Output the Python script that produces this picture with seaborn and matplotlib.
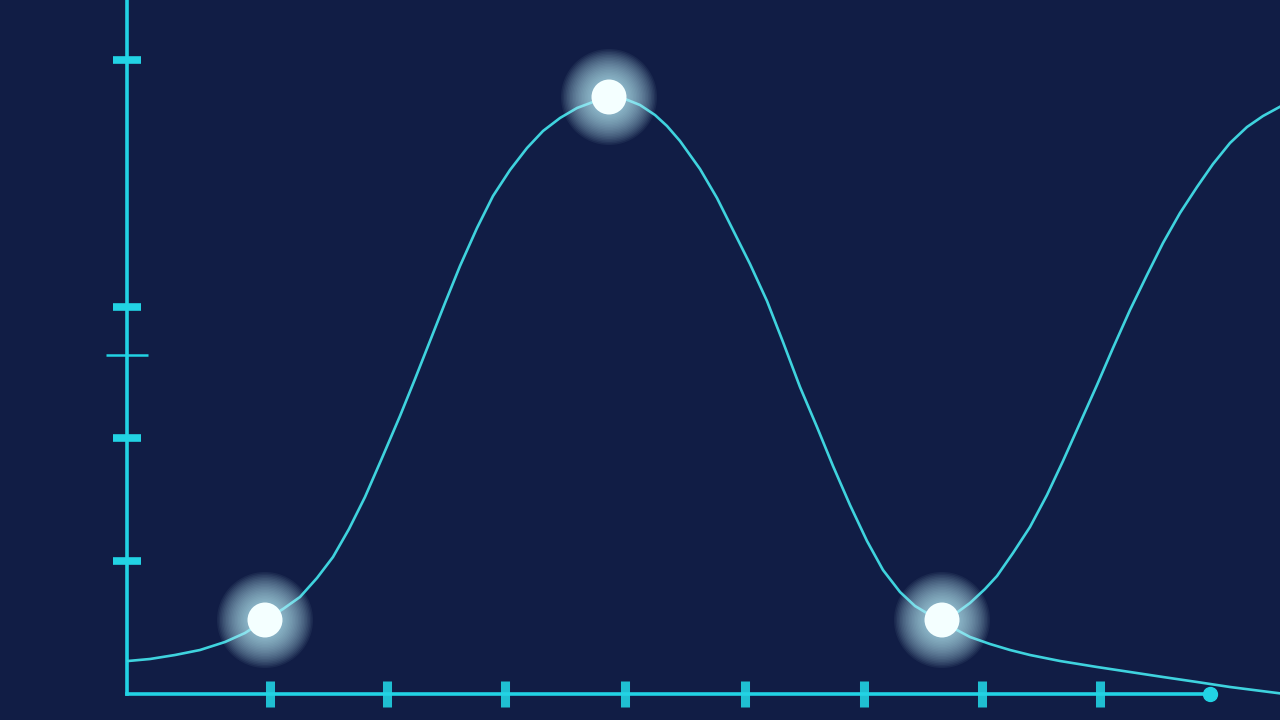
import pandas as pd
import seaborn as sns
import matplotlib.pyplot as plt

# curve (x along the axis, y above the axis)
curve_x = [1, 23, 48, 73, 98, 118, 138, 156, 173, 190, 206, 222, 238, 255, 273,
           288, 303, 318, 333, 350, 366, 383, 400, 416, 433, 450, 466, 485,
           498, 513, 528, 540, 553, 573, 590, 606, 623, 640, 656, 673, 690, 706,
           723, 740, 756, 773, 788, 803, 815,
           828, 843, 858, 870, 886, 903, 920, 936, 953, 970, 986, 1003, 1020,
           1036, 1053, 1070, 1086, 1103, 1120, 1136, 1158]
curve_y = [33, 35, 39, 44, 52, 61, 74, 85, 97, 116, 137, 165, 197, 236, 278,
           315, 353, 391, 428, 466, 498, 524, 546, 563, 576, 586, 592, 596,
           595, 589, 579, 568, 553, 525, 496, 464, 430, 393, 352, 307, 267, 228,
           189, 153, 124, 102, 88, 79, 74,
           80, 91, 105, 118, 141, 167, 199, 233, 271, 309, 346, 384, 419,
           451, 481, 507, 530, 551, 567, 578, 590]

# second branch leaving the trough
tail_x = [815, 828, 843, 863, 883, 903, 933, 970, 1003, 1036, 1070, 1103, 1158]
tail_y = [74, 65, 57, 50, 44, 39, 33, 27, 22, 17, 12, 7, 0]

# highlighted points
key_x = [138, 482, 815]
key_y = [74, 597, 74]

x_ticks = [143, 260, 378, 498, 618, 737, 855, 973]
y_ticks = [133, 256, 387, 634]
y_minor = [339]
x_end = 1083

bg = '#111d45'
cyan = '#22d3e4'
line_c = '#3fd3de'

sns.set_theme(style='white')
fig = plt.figure(figsize=(12.8, 7.2), dpi=100, facecolor=bg)
ax = fig.add_axes([0, 0, 1, 1])
ax.set_facecolor(bg)

curve = pd.DataFrame({'x': curve_x, 'y': curve_y})
tail = pd.DataFrame({'x': tail_x, 'y': tail_y})
keys = pd.DataFrame({'x': key_x, 'y': key_y})

sns.lineplot(data=curve, x='x', y='y', sort=False, estimator=None,
             color=line_c, lw=1.9, ax=ax, zorder=3)
sns.lineplot(data=tail, x='x', y='y', sort=False, estimator=None,
             color=line_c, lw=1.9, ax=ax, zorder=3)

# soft glow round the highlighted points
for d in range(96, 36, -3):
    sns.scatterplot(data=keys, x='x', y='y', s=(d * 0.72) ** 2, color='#bff4ff',
                    alpha=0.06, edgecolor='none', ax=ax, zorder=4)
sns.scatterplot(data=keys, x='x', y='y', s=(35 * 0.72) ** 2, color='#f4ffff',
                edgecolor='none', ax=ax, zorder=6)

ax.set_xlim(-127, 1153)
ax.set_ylim(-26, 694)
ax.set_xlabel('')
ax.set_ylabel('')

for side in ['top', 'right']:
    ax.spines[side].set_visible(False)
ax.spines['left'].set_position(('data', 0))
ax.spines['bottom'].set_position(('data', 0))
ax.spines['left'].set_bounds(0, 720)
ax.spines['bottom'].set_bounds(0, x_end)
for side in ['left', 'bottom']:
    ax.spines[side].set_color(cyan)
    ax.spines[side].set_linewidth(2.6)
    ax.spines[side].set_zorder(2)

ax.plot([x_end], [0], 'o', color=cyan, ms=10, clip_on=False, zorder=2)

ax.set_xticks(x_ticks)
ax.set_yticks(y_ticks)
ax.set_yticks(y_minor, minor=True)
ax.set_xticklabels([])
ax.set_yticklabels([])
ax.tick_params(bottom=True, left=True)
ax.tick_params(axis='y', which='minor', left=True)
ax.tick_params(axis='x', direction='inout', length=19, width=6.5, color='#1fbfd2')
ax.tick_params(axis='y', which='major', direction='inout', length=20, width=5.5,
               color=cyan)
ax.tick_params(axis='y', which='minor', direction='inout', length=30, width=1.8,
               color=cyan)
ax.grid(False)

fig.savefig('out.png', dpi=100, facecolor=bg)
